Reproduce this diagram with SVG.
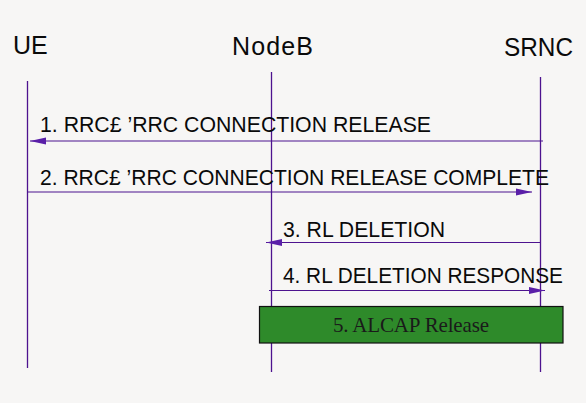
<svg xmlns="http://www.w3.org/2000/svg" width="586" height="403" viewBox="0 0 586 403">
<style>
.title{font-family:"Liberation Sans",Arial,sans-serif;font-size:25px;fill:#0a0a0a}
.lbl{font-family:"Liberation Sans",Arial,sans-serif;font-size:22px;fill:#0a0a0a}
.life{stroke:#4d138f;stroke-width:1.3;fill:none}
.msg{stroke:#4d138f;stroke-width:1.2;fill:none}
.box{fill:#2e8a2a;stroke:#111;stroke-width:1.2}
.boxt{font-family:"Liberation Serif","Times New Roman",serif;font-size:21px;fill:#1a1a1a}
</style>
<defs>
<marker id="ah" markerWidth="16" markerHeight="8" refX="16" refY="4" orient="auto" markerUnits="userSpaceOnUse">
<path d="M0,0.5 L16,4 L0,7.5 Z" fill="#5a1fa8"/>
</marker>
</defs>
<rect width="586" height="403" fill="#f7f6f5"/>
<g id="UE">
<text class="title" x="13" y="54">UE</text>
<line class="life" x1="27.5" y1="81" x2="27.5" y2="368"/>
</g>
<g id="NodeB">
<text class="title" x="232" y="55" textLength="81">NodeB</text>
<line class="life" x1="271.5" y1="72" x2="271.5" y2="372"/>
</g>
<g id="SRNC">
<text class="title" x="504" y="56" textLength="69" lengthAdjust="spacingAndGlyphs">SRNC</text>
<line class="life" x1="540.5" y1="77" x2="540.5" y2="372"/>
</g>
<g id="connectors">
<line class="msg" x1="543" y1="141" x2="30" y2="141" marker-end="url(#ah)"/>
<text class="lbl" x="40" y="132" textLength="391" lengthAdjust="spacingAndGlyphs">1. RRC£ ’RRC CONNECTION RELEASE</text>
<line class="msg" x1="27" y1="192" x2="532" y2="192" marker-end="url(#ah)"/>
<text class="lbl" x="40" y="185" textLength="509" lengthAdjust="spacingAndGlyphs">2. RRC£ ’RRC CONNECTION RELEASE COMPLETE</text>
<line class="msg" x1="540" y1="242.5" x2="266" y2="242.5" marker-end="url(#ah)"/>
<text class="lbl" x="283" y="237" textLength="162" lengthAdjust="spacingAndGlyphs">3. RL DELETION</text>
<line class="msg" x1="269" y1="290.5" x2="545" y2="290.5" marker-end="url(#ah)"/>
<text class="lbl" x="283" y="283" textLength="280" lengthAdjust="spacingAndGlyphs">4. RL DELETION RESPONSE</text>
</g>
<g id="alcap">
<rect class="box" x="259.5" y="306.5" width="303.5" height="36.5"/>
<text class="boxt" x="333" y="332" textLength="156">5. ALCAP Release</text>
</g>
</svg>
